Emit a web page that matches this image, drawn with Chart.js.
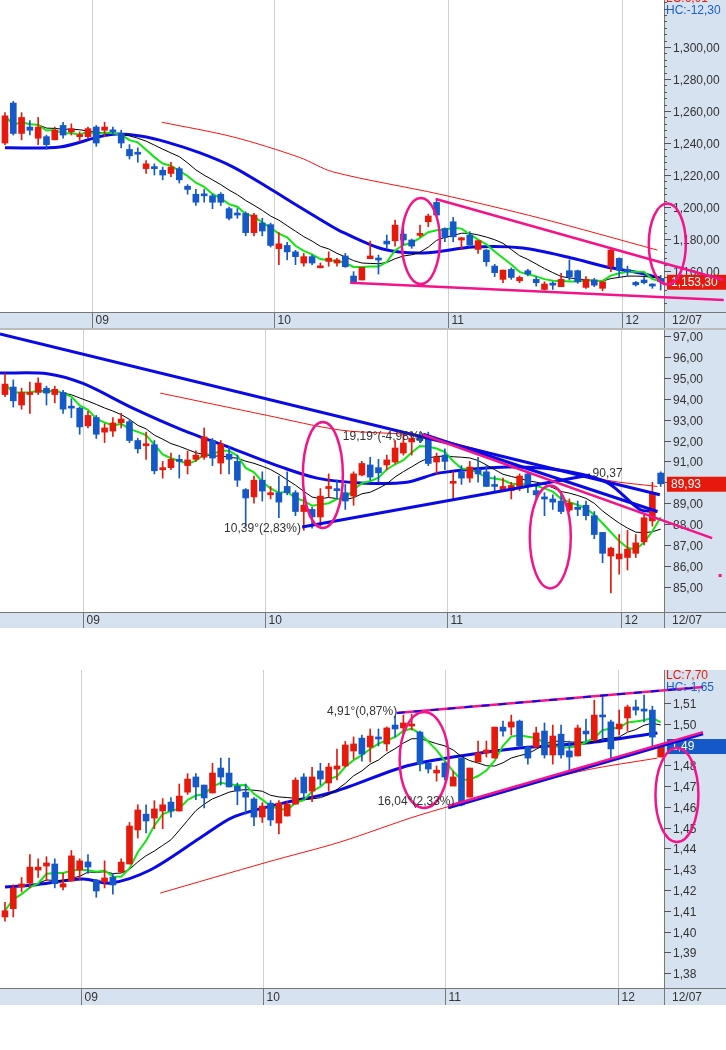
<!DOCTYPE html>
<html><head><meta charset="utf-8">
<script src="https://cdn.jsdelivr.net/npm/chart.js@4.4.1/dist/chart.umd.min.js"></script>
<style>
html,body{margin:0;padding:0;background:#fff;width:726px;height:1050px;overflow:hidden}
canvas{position:absolute;left:0}
#c1{top:0}#c2{top:330px}#c3{top:670px}
.sep{position:absolute;left:0;width:726px;height:2px;background:#bbb}
</style></head><body>
<canvas id="c1" width="726" height="328"></canvas>
<div class="sep" style="top:328px"></div>
<canvas id="c2" width="726" height="298"></canvas>
<canvas id="c3" width="726" height="335"></canvas>
<script>
// ---------- DATA ----------
const monthLabels = ['09','10','11','12'];
const dateLabel = '12/07';
// panel 1 : [open, high, low, close]
const candles1 = [
[1240,1259,1239,1257],[1265,1266,1245,1246],[1246,1259,1242,1256],[1250,1254,1245,1248],[1243,1256,1239,1250],
[1244,1245,1236,1239],[1242,1250,1242,1248],[1251,1253,1243,1245],[1247,1252,1245,1249],[1244,1247,1241,1245],
[1244,1250,1243,1249],[1250,1251,1238,1240],[1248,1253,1244,1250],[1248,1250,1245,1247],[1246,1248,1237,1240],
[1236,1239,1230,1232],[1234,1237,1228,1233],[1224,1229,1221,1227],[1225,1227,1220,1224],[1223,1225,1217,1220],
[1221,1228,1219,1225],[1224,1225,1215,1217],[1213,1214,1208,1211],[1208,1211,1201,1203],[1207.5,1211,1203,1207],
[1207,1208,1199,1203],[1208,1209,1201,1203],[1199,1200,1192,1193],[1195.5,1199,1193,1195],[1196,1197,1182,1184],
[1184,1196,1182,1195],[1190,1193,1182,1185],[1189,1190,1175,1176],[1174,1184,1164,1177],[1176,1178,1167,1172],
[1172,1173,1164,1169],[1165,1171,1163,1169],[1169,1170,1164,1165],[1162,1165,1162,1162.5],[1166,1172,1163,1168],
[1165,1168,1163,1167],[1169.4,1171,1162.3,1162.7],[1156.9,1159.6,1152.3,1152.7],[1154.4,1162.3,1154.4,1162.3],[1167.7,1178.7,1167.7,1169.4],
[1167.3,1170,1158.1,1166.9],[1178.7,1182.5,1174.2,1176.9],[1178.9,1191.9,1175.6,1188.7],[1183.1,1189.8,1176.2,1179.4],[1179.4,1180,1174.2,1175.6],
[1182.3,1188.7,1181.4,1183.1],[1190.8,1195.6,1187.7,1194.4],[1202.9,1205.4,1194.4,1195],[1186.6,1187,1178.3,1181],[1190.8,1193.5,1178.3,1181.4],
[1179.4,1181,1173.5,1180.8],[1182.5,1184.6,1175.2,1176.2],[1173.5,1179,1171,1179],[1173.1,1173.5,1163.1,1165.8],[1163.1,1164.2,1156.5,1159],
[1154.8,1160.6,1152.7,1160.6],[1161,1162,1154.8,1156],[1153.9,1156.9,1152.7,1156],[1160.2,1161,1156.9,1158.1],[1154.8,1156.5,1150.6,1152.7],
[1148.5,1153.3,1148.1,1151.9],[1151.5,1153.3,1148.5,1151.2],[1150.2,1158.5,1150.2,1154.8],[1160.2,1166.9,1154.4,1156.4],[1160.2,1160.6,1152.3,1153.3],
[1149.8,1156.5,1149.2,1154.8],[1154.4,1155.4,1150.2,1151.2],[1149.2,1153.3,1147.7,1153.3],[1162.7,1174.2,1159.6,1173.1],[1167.9,1168.3,1156.5,1160.6],
[1159.8,1163.1,1156.9,1159.6],[1152.9,1153.5,1150.6,1151.4],[1154.4,1156,1151.9,1152.7],[1151.6,1152.1,1149.2,1150.6],[1155.4,1157.3,1148.1,1153.3]];
const blueMaX1 = [0,6.6,11.4,13.5,16.3,19.5,23.5,27.5,31.6,35.5,39.5,40.4,45.5,50.4,56.4,62.4,68.4,72.5,76.5,78.9];
const blueMaY1 = [1237,1237.5,1244,1245.6,1244.4,1240.6,1233.8,1225,1212.5,1200,1187.5,1185,1173.8,1171.3,1175,1174.4,1168,1162.5,1158.8,1155.6];
const redMaX1 = [18.9,27.5,35.5,39.5,52.4,64.5,78.6];
const redMaY1 = [1253,1243.8,1231,1222,1208,1193,1173.1];
const yTicks1 = [1160,1180,1200,1220,1240,1260,1280,1300];
const yLabels1 = ['1,160,00','1,180,00','1,200,00','1,220,00','1,240,00','1,260,00','1,280,00','1,300,00'];
const months1 = [10.5,32.4,53.4,74.3];
const trend1 = [[[41.6,1152.7],[86.6,1141.9]],[[51.9,1205],[86.6,1154.4]]];
const ellipses1 = [[50.1,1178.8,2.3,26.9],[79.8,1176.9,2.23,25.3]];

// panel 2
const candles2 = [
[94.2,95.2,94.1,94.7],[94.56,94.9,93.6,93.9],[93.7,94.5,93.5,94.3],[94.2,94.8,93.3,94.3],[94.3,95.0,94.2,94.75],
[94.5,94.6,93.7,94.27],[94.2,94.6,93.8,94.45],[94.3,94.4,93.3,93.5],[93.6,94.0,93.1,93.55],[93.55,93.6,92.3,92.65],
[92.7,93.4,92.6,93.2],[93.1,93.2,92.1,92.3],[92.4,92.8,91.9,92.6],[92.45,93.1,92.2,92.84],[92.85,93.3,92.6,93.03],
[92.9,93.0,91.9,92.0],[92.0,92.1,91.4,91.6],[91.75,92.4,91.1,91.8],[91.8,92.0,90.4,90.55],[90.6,91.0,90.2,90.7],
[90.7,91.4,90.6,91.1],[91.1,91.3,90.2,91.0],[90.8,91.5,90.4,91.07],[91.1,91.5,91.0,91.3],[91.2,92.6,91.1,92.17],
[92.0,92.1,90.8,91.16],[90.92,92.0,90.4,91.83],[91.35,91.7,90.4,91.1],[91.0,91.3,89.8,90.1],[89.65,89.7,87.9,89.25],
[89.3,90.3,89.0,90.1],[90.1,90.5,89.1,89.58],[89.4,89.8,89.2,89.5],[89.5,90.3,88.3,89.05],[89.8,90.5,89.4,89.5],
[89.5,89.6,88.4,88.6],[88.6,89.3,87.7,88.9],[88.7,88.8,87.8,88.34],[88.34,89.7,87.9,89.34],[89.7,90.4,89.3,89.8],
[89.62,90.1,89.2,89.6],[89.5,89.9,88.7,89.1],[89.34,90.5,88.9,90.4],[90.35,91.0,90.3,90.9],[90.83,91.2,90.1,90.25],
[90.7,91.1,90.0,90.45],[90.83,91.3,90.6,91.07],[90.97,92.0,90.9,91.64],[91.4,92.3,91.3,91.88],[91.93,92.4,91.3,92.1],
[92.2,92.4,91.9,92.0],[92.1,92.4,90.8,90.9],[90.97,91.4,90.4,91.2],[91.3,91.6,90.6,91.0],[89.95,90.5,89.2,90.0],
[90.5,90.8,89.9,90.2],[90.2,91.0,90.0,90.73],[90.6,91.2,90.0,90.4],[90.5,90.8,89.8,89.8],[89.82,90.3,89.6,89.8],
[89.65,90.2,89.6,89.8],[89.6,90.0,89.2,89.85],[89.8,90.4,89.6,90.3],[90.4,90.5,89.5,89.8],[89.6,89.9,89.2,89.4],
[89.3,89.5,88.4,89.2],[89.2,89.4,88.7,89.05],[89.1,89.5,88.5,88.6],[88.67,89.2,88.6,89.0],[88.8,89.1,88.4,88.7],
[88.9,89.1,88.2,88.4],[88.4,88.6,87.3,87.5],[87.6,87.6,86.15,86.6],[86.47,86.9,84.7,86.85],[86.33,87.5,85.6,86.57],
[86.4,87.7,85.8,86.8],[86.6,87.5,86.4,87.1],[87.15,88.5,87.0,88.3],[88.15,90.0,87.9,89.5],[90.44,90.5,89.8,89.93]];
const blueMaX2 = [-0.6,5.1,9.4,15.4,21.4,27.5,33.5,37.6,42.8,48.4,52.4,60.5,66.5,72.5,76.5,78.6];
const blueMaY2 = [95.23,95.2,94.73,93.55,92.5,91.6,90.7,90.2,89.97,90.0,90.45,90.73,90.6,90.0,88.7,88.6];
const redMaX2 = [18.7,31.6,40.4,50.4,60.5,72.5,78.6];
const redMaY2 = [94.27,93.2,92.5,92.2,91.2,90.1,89.8];
const yTicks2 = [85,86,87,88,89,90,91,92,93,94,95,96,97];
const yLabels2 = ['85,00','86,00','87,00','88,00','89,00','90,00','91,00','92,00','93,00','94,00','95,00','96,00','97,00'];
const months2 = [9.4,31.3,53.3,74.2];
const blueTrend2 = [[[-0.6,97.1],[78.9,89.4]],[[50.4,92.3],[78.6,88.6]],[[35.8,87.86],[70.5,90.35]]];
const pinkTrend2 = [[[50.2,92.3],[85.2,87.33]]];
const ellipses2 = [[38.3,90.35,2.41,2.54],[65.7,87.38,2.47,2.46]];
const notes2 = [['19,19°(-4,98%)',40.7,92.17],['10,39°(2,83%)',26.4,87.8],['90,37',70.8,90.4]];
const dot2 = [86.1,85.56];

// panel 3
const candles3 = [
[1.407,1.414,1.405,1.410],[1.411,1.4225,1.407,1.421],[1.4214,1.426,1.419,1.4229],[1.4233,1.437,1.421,1.431],[1.4296,1.435,1.426,1.431],
[1.4315,1.436,1.4245,1.433],[1.4325,1.435,1.421,1.423],[1.4214,1.428,1.420,1.423],[1.4243,1.439,1.4243,1.4364],[1.4296,1.435,1.425,1.434],
[1.4335,1.437,1.428,1.431],[1.4248,1.425,1.4165,1.4195],[1.4238,1.434,1.421,1.4258],[1.4262,1.428,1.418,1.4224],[1.4286,1.435,1.4286,1.4334],
[1.4325,1.4525,1.4325,1.4508],[1.4489,1.461,1.445,1.4585],[1.4565,1.461,1.4475,1.4532],[1.4546,1.463,1.4495,1.459],[1.458,1.464,1.4495,1.461],
[1.4623,1.4645,1.455,1.458],[1.458,1.471,1.458,1.4652],[1.4671,1.476,1.466,1.4734],[1.4744,1.476,1.4635,1.4696],[1.4705,1.4705,1.4595,1.4643],
[1.4667,1.481,1.4667,1.4763],[1.4787,1.4835,1.4705,1.4744],[1.4763,1.4835,1.4696,1.4696],[1.470,1.4715,1.461,1.4676],[1.4671,1.471,1.4565,1.4647],
[1.4638,1.4645,1.451,1.4551],[1.4551,1.462,1.4525,1.4604],[1.4618,1.463,1.451,1.4537],[1.4522,1.463,1.447,1.4618],[1.4556,1.4625,1.4556,1.4613],
[1.4613,1.474,1.4613,1.4729],[1.4744,1.476,1.4635,1.4667],[1.4676,1.479,1.4625,1.4744],[1.4773,1.481,1.4705,1.4734],[1.4715,1.481,1.4676,1.4792],
[1.4782,1.4878,1.473,1.4797],[1.4797,1.4915,1.4792,1.4898],[1.4869,1.4937,1.4831,1.4903],[1.4931,1.4946,1.482,1.4854],[1.4888,1.4975,1.4816,1.4941],
[1.4936,1.4975,1.4893,1.4927],[1.4903,1.4985,1.4869,1.498],[1.4994,1.5037,1.4937,1.4975],[1.498,1.5042,1.4951,1.5004],[1.4989,1.5046,1.497,1.4999],
[1.496,1.4965,1.4773,1.4806],[1.4811,1.4811,1.4763,1.4782],[1.4763,1.4797,1.4724,1.4777],[1.4811,1.4816,1.4729,1.4744],[1.470,1.4772,1.4715,1.4744],
[1.4835,1.4835,1.4605,1.4609],[1.4647,1.4787,1.4647,1.4787],[1.4816,1.4917,1.4816,1.4859],[1.4859,1.4917,1.484,1.4874],[1.4835,1.4984,1.4835,1.4984],
[1.4984,1.5013,1.4941,1.4965],[1.4984,1.5042,1.4946,1.5009],[1.5013,1.5018,1.4888,1.4893],[1.4888,1.4893,1.4806,1.4835],[1.4888,1.4984,1.4888,1.4956],
[1.4965,1.5004,1.4835,1.485],[1.485,1.4994,1.4806,1.4941],[1.495,1.4994,1.4835,1.485],[1.4869,1.4917,1.4763,1.484],[1.4845,1.4994,1.4845,1.498],
[1.4965,1.5023,1.4917,1.4951],[1.4922,1.5114,1.4917,1.5042],[1.5042,1.5138,1.4922,1.5033],[1.5009,1.5018,1.4826,1.4879],[1.4975,1.5066,1.4946,1.4999],
[1.5028,1.509,1.4965,1.5081],[1.5081,1.5114,1.5042,1.5066],[1.5071,1.5138,1.5009,1.5061],[1.5066,1.5085,1.4889,1.4936],[1.484,1.4893,1.484,1.4893]];
const blueMaX3 = [0,3.4,9.4,12.7,17.5,23.5,27.5,33.5,39.5,48,54,62,70,78.6];
const blueMaY3 = [1.4214,1.4224,1.4253,1.4233,1.4296,1.445,1.4551,1.4618,1.4671,1.4792,1.484,1.4883,1.4907,1.4956];
const redMaX3 = [18.7,31.6,40.4,50,62,70,78.6];
const redMaY3 = [1.4185,1.4334,1.4431,1.4561,1.4696,1.4777,1.4835];
const yTicks3 = [1.38,1.39,1.40,1.41,1.42,1.43,1.44,1.45,1.46,1.47,1.48,1.49,1.50,1.51];
const yLabels3 = ['1,38','1,39','1,40','1,41','1,42','1,43','1,44','1,45','1,46','1,47','1,48','1,49','1,50','1,51'];
const months3 = [9.2,31.1,53,73.9];
const pinkTrend3 = [[[47.2,1.5052],[84.1,1.5177]],[[53.4,1.4604],[84.1,1.496]]];
const ellipses3 = [[50.5,1.4826,2.95,0.0231],[80.96,1.4657,2.59,0.0226]];
const notes3 = [['4,91°(0,87%)',38.8,1.5057],['16,04°(2,33%)',44.9,1.4623]];

// ---------- RENDER ----------
const RED='#e6190d', BLUE='#1558c8', PINK='#f5138a', MAB='#0a0ae6', GREEN='#11e611';
const FONT='12px "Liberation Sans", Arial, sans-serif';
function sma(cs,n){return cs.map((c,i)=>{const s=cs.slice(Math.max(0,i-n+1),i+1);return {x:i,y:s.reduce((a,b)=>a+b[3],0)/s.length};});}
function pts(xs,ys){return xs.map((x,i)=>({x,y:ys[i]}));}

function makeChart(id,o){
  const cs=o.candles;
  const up=c=>c[3]>=c[0];
  const ds=[];
  ds.push({type:'bar',order:12,data:cs.map((c,i)=>({x:i,y:[c[2],c[1]]})),backgroundColor:cs.map(c=>up(c)?RED:BLUE),barThickness:1,grouped:false});
  ds.push({type:'bar',order:11,data:cs.map((c,i)=>({x:i,y:[Math.min(c[0],c[3]),Math.max(c[0],c[3])]})),backgroundColor:cs.map(c=>up(c)?RED:BLUE),barThickness:6,minBarLength:2,grouped:false});
  const line=(data,color,w,extra)=>Object.assign({type:'line',data,borderColor:color,borderWidth:w,pointRadius:0,fill:false,tension:0},extra||{});
  ds.push(line(pts(o.redX,o.redY),'#ff1010',1,{order:20,tension:0.3}));
  ds.push(line(pts(o.blueX,o.blueY),MAB,3,{order:19,tension:0.3}));
  ds.push(line(sma(cs,10),'#000',1,{order:18}));
  ds.push(line(sma(cs,5),GREEN,2,{order:17}));
  (o.blueTrends||[]).forEach(t=>ds.push(line(t.map(p=>({x:p[0],y:p[1]})),MAB,3,{order:5,clip:false})));
  (o.blueUnder||[]).forEach(t=>ds.push(line(t.map(p=>({x:p[0],y:p[1]})),MAB,3,{order:4,clip:false})));
  (o.pinkTrends||[]).forEach(t=>ds.push(line(t.map(p=>({x:p[0],y:p[1]})),PINK,2.5,{order:3,clip:false})));
  (o.blueDash||[]).forEach(t=>ds.push(line(t.map(p=>({x:p[0],y:p[1]})),MAB,2,{order:2,clip:false,borderDash:[8,9]})));
  const deco={id:'deco'+id,
    beforeDraw(ch){
      const c=ch.ctx,a=ch.chartArea,W=ch.width,H=ch.height,xs=ch.scales.x,ys=ch.scales.y;
      c.save();c.fillStyle='#fff';c.fillRect(0,0,W,H);
      c.fillStyle='#d6e2ef';c.fillRect(a.right,0,W-a.right,H);c.fillRect(0,a.bottom,W,H-a.bottom);
      c.strokeStyle='#d0d0d0';c.lineWidth=1;
      o.months.forEach(m=>{const x=Math.round(xs.getPixelForValue(m))+0.5;c.beginPath();c.moveTo(x,a.top);c.lineTo(x,a.bottom);c.stroke();});
      c.strokeStyle='#777';
      c.beginPath();c.moveTo(0,a.bottom+0.5);c.lineTo(W,a.bottom+0.5);c.stroke();
      c.beginPath();c.moveTo(a.right+0.5,0);c.lineTo(a.right+0.5,H);c.stroke();
      c.fillStyle='#333';c.font=FONT;c.textBaseline='middle';c.textAlign='left';
      o.months.forEach((m,i)=>{const x=Math.round(xs.getPixelForValue(m))+0.5;c.beginPath();c.moveTo(x,a.bottom);c.lineTo(x,H);c.stroke();c.fillText(monthLabels[i],x+3,(a.bottom+H)/2+1);});
      c.fillText(dateLabel,a.right+8,(a.bottom+H)/2+1);
      c.strokeStyle='#555';
      o.ticks.forEach((t,i)=>{const y=Math.round(ys.getPixelForValue(t))+0.5;c.beginPath();c.moveTo(a.right,y);c.lineTo(a.right+7,y);c.stroke();c.fillText(o.labels[i],a.right+9,y+1);});
      if(o.minor){const st=o.ticks[1]-o.ticks[0];for(let v=o.ticks[0]-st;v<=ys.max;v+=st/5){const y=Math.round(ys.getPixelForValue(v))+0.5;if(y<a.top+2||y>a.bottom-2)continue;c.beginPath();c.moveTo(a.right,y);c.lineTo(a.right+3,y);c.stroke();}}
      const last=cs[cs.length-1][3],py=ys.getPixelForValue(last);
      c.fillStyle=o.boxColor;c.fillRect(a.right+3,py-7,W-a.right-3,15);
      c.fillStyle='#fff';c.fillText(o.boxLabel,a.right+7,py+1);
      c.restore();
    },
    afterDatasetsDraw(ch){
      const c=ch.ctx,xs=ch.scales.x,ys=ch.scales.y,a=ch.chartArea;
      c.save();c.strokeStyle=PINK;c.lineWidth=2.5;
      (o.ellipses||[]).forEach(e=>{const cx=xs.getPixelForValue(e[0]),cy=ys.getPixelForValue(e[1]);
        const rx=Math.abs(xs.getPixelForValue(e[0]+e[2])-cx),ry=Math.abs(ys.getPixelForValue(e[1]+e[3])-cy);
        c.beginPath();c.ellipse(cx,cy,rx,ry,0,0,Math.PI*2);c.stroke();});
      c.font=FONT;c.textBaseline='middle';c.textAlign='left';c.fillStyle='#333';
      (o.notes||[]).forEach(n=>c.fillText(n[0],xs.getPixelForValue(n[1]),ys.getPixelForValue(n[2])));
      if(o.dot){c.fillStyle=PINK;c.fillRect(xs.getPixelForValue(o.dot[0])-1,ys.getPixelForValue(o.dot[1])-1,3,3);}
      if(o.header){c.fillStyle='#e8190d';c.fillText(o.header[0],a.right+2,o.header[2]);c.fillStyle='#1b5fd2';c.fillText(o.header[1],a.right+2,o.header[2]+12);}
      c.restore();
    }};
  return new Chart(document.getElementById(id),{
    data:{datasets:ds},
    options:{responsive:false,animation:false,devicePixelRatio:1,
      layout:{padding:{left:0,right:62,top:0,bottom:o.bottom}},
      plugins:{legend:{display:false},tooltip:{enabled:false}},
      scales:{x:{type:'linear',min:-0.6,max:79.4,offset:false,display:false},
              y:{type:'linear',min:o.min,max:o.max,display:false}}},
    plugins:[deco]});
}

makeChart('c1',{candles:candles1,blueX:blueMaX1,blueY:blueMaY1,redX:redMaX1,redY:redMaY1,ticks:yTicks1,labels:yLabels1,
  months:months1,pinkTrends:trend1,ellipses:ellipses1,min:1134.4,max:1329.4,bottom:16,minor:true,
  boxColor:'#e6190d',boxLabel:'1,153,30',header:['LC:6,91','HC:-12,30',-1]});
makeChart('c2',{candles:candles2,blueX:blueMaX2,blueY:blueMaY2,redX:redMaX2,redY:redMaY2,ticks:yTicks2,labels:yLabels2,
  months:months2,blueTrends:blueTrend2,pinkTrends:pinkTrend2,ellipses:ellipses2,notes:notes2,dot:dot2,min:83.79,max:97.29,bottom:16,
  boxColor:'#e6190d',boxLabel:'89,93'});
makeChart('c3',{candles:candles3,blueX:blueMaX3,blueY:blueMaY3,redX:redMaX3,redY:redMaY3,ticks:yTicks3,labels:yLabels3,
  months:months3,blueUnder:[[[53.4,1.4596],[84.1,1.4952]]],pinkTrends:pinkTrend3,blueDash:[pinkTrend3[0]],ellipses:ellipses3,notes:notes3,
  min:1.3728,max:1.5259,bottom:17,boxColor:'#1558c8',boxLabel:'1,49',header:['LC:7,70','HC:-1,65',6]});
</script></body></html>
